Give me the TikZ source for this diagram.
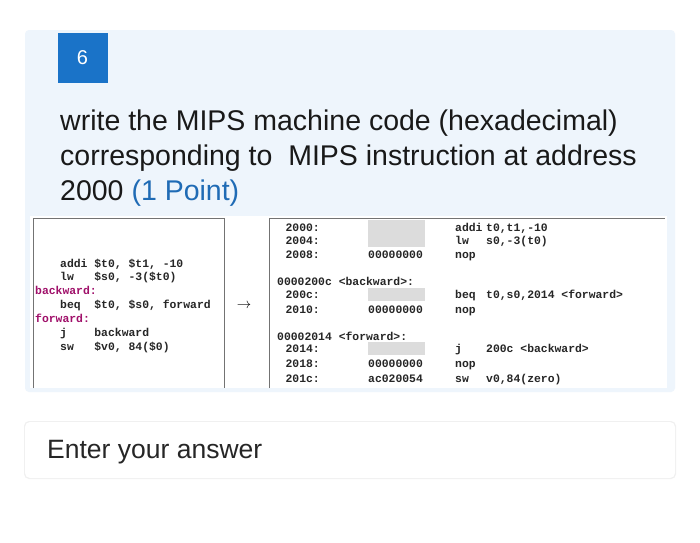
\documentclass[tikz,border=0pt]{standalone}
\usepackage{fontspec}
\setmainfont{Liberation Sans}
\newfontfamily\codefont{Liberation Mono}
\definecolor{cardbg}{HTML}{EEF5FC}
\definecolor{badge}{HTML}{1A73C8}
\definecolor{lbl}{HTML}{A0106A}
\definecolor{pt}{HTML}{1F6BB5}
\definecolor{grayb}{HTML}{DCDCDC}
\begin{document}
\begin{tikzpicture}[x=1pt,y=-1pt,
  code/.style={font=\codefont\fontsize{11.4}{12}\selectfont\bfseries, inner sep=0pt, anchor=base west, text=black!85},
  codeR/.style={code, anchor=base east},
  q/.style={font=\fontsize{28.5}{30}\selectfont, anchor=base west, inner sep=0pt, text=black!90}]
\useasboundingbox (0,0) rectangle (700,542);
\fill[white] (0,0) rectangle (700,542);
\fill[cardbg, rounded corners=4] (25,30) rectangle (675,392);
\node[fill=badge, minimum size=50, inner sep=0, text=white, font=\fontsize{20}{22}\selectfont] (badge) at (82.5,58) {6};
\node[q] (q1) at (60,130) {write the MIPS machine code (hexadecimal)};
\node[q] (q2) at (60,165) {corresponding to\ \ MIPS instruction at address};
\node[q] (q3) at (60,200) {2000 \textcolor{pt}{(1 Point)}};
\begin{scope}
\clip (30,216) rectangle (667,388);
\fill[white] (30,216) rectangle (667,388);
\draw[black!55, line width=0.8] (33,388) -- (33,218) -- (224,218) -- (224,388);
\draw[black!55, line width=0.8] (269,388) -- (269,218) -- (665,218);
% left code
\node[code] (l1) at (60,267) {addi \$t0, \$t1, -10};
\node[code] (l2) at (60,280) {lw\ \ \ \$s0, -3(\$t0)};
\node[code, text=lbl] (l3) at (35,294) {backward:};
\node[code] (l4) at (60,308) {beq\ \ \$t0, \$s0, forward};
\node[code, text=lbl] (l5) at (35,322) {forward:};
\node[code] (l6) at (60,336) {j\ \ \ \ backward};
\node[code] (l7) at (60,350) {sw\ \ \ \$v0, 84(\$0)};
\node[font=\fontsize{14}{14}\selectfont] (arr) at (244,306) {$\rightarrow$};
% right
\fill[grayb] (368,220) rectangle (425,247);
\fill[grayb] (368,288) rectangle (425,301);
\fill[grayb] (368,342) rectangle (425,355);
\node[codeR] (a1) at (320,231) {2000:};
\node[codeR] (a2) at (320,244) {2004:};
\node[codeR] (a3) at (320,258) {2008:};
\node[code] (b1) at (277,285) {0000200c <backward>:};
\node[codeR] (a4) at (320,298) {200c:};
\node[codeR] (a5) at (320,313) {2010:};
\node[code] (b2) at (277,340) {00002014 <forward>:};
\node[codeR] (a6) at (320,352) {2014:};
\node[codeR] (a7) at (320,367) {2018:};
\node[codeR] (a8) at (320,382) {201c:};
\node[code] (h3) at (368,258) {00000000};
\node[code] (h5) at (368,313) {00000000};
\node[code] (h7) at (368,367) {00000000};
\node[code] (h8) at (368,382) {ac020054};
\node[code] (m1) at (455,231) {addi};
\node[code] (m2) at (455,244) {lw};
\node[code] (m3) at (455,258) {nop};
\node[code] (m4) at (455,298) {beq};
\node[code] (m5) at (455,313) {nop};
\node[code] (m6) at (455,352) {j};
\node[code] (m7) at (455,367) {nop};
\node[code] (m8) at (455,382) {sw};
\node[code] (o1) at (486,231) {t0,t1,-10};
\node[code] (o2) at (486,244) {s0,-3(t0)};
\node[code] (o4) at (486,298) {t0,s0,2014 <forward>};
\node[code] (o6) at (486,352) {200c <backward>};
\node[code] (o8) at (486,382) {v0,84(zero)};
\end{scope}
\fill[black!6, rounded corners=5] (24,421) rectangle (676,479);
\fill[white, rounded corners=5] (25,422) rectangle (675,478);
\node[font=\fontsize{26.5}{28}\selectfont, anchor=base west, inner sep=0, text=black!85] (ans) at (47,458) {Enter your answer};
\end{tikzpicture}
\end{document}
